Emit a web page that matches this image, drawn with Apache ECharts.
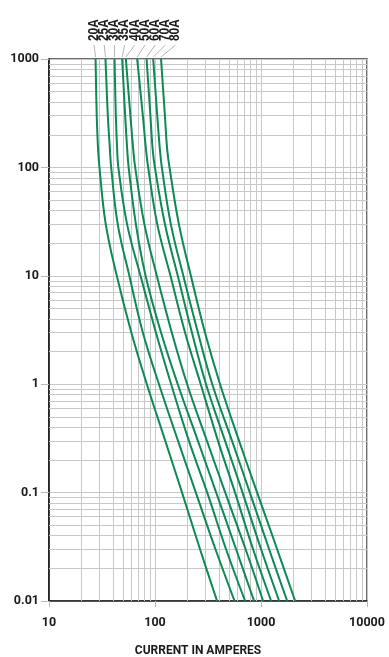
<!DOCTYPE html>
<html><head><meta charset="utf-8">
<script src="https://cdn.jsdelivr.net/npm/echarts@6/dist/echarts.min.js"></script>
<style>html,body{margin:0;padding:0;background:#fff}#c{width:389px;height:657px}</style>
</head><body><div id="c"></div>
<script>
// Time axis sample points (seconds) shared by all curves
const times = [1000, 300, 150, 100, 30, 10, 3, 1, 0.3, 0.1, 0.03, 0.01];
// Current (amperes) of each fuse rating at those times
const ratings = ['20A','25A','30A','35A','40A','50A','60A','70A','80A'];
const amps20A = [27.5, 28.2, 29.0, 29.9, 34.3, 43.6, 59.8, 83.8, 125, 180, 266, 385];
const amps25A = [34.1, 35.9, 37.5, 38.6, 44.5, 57.3, 76.8, 109, 165, 243, 372, 563];
const amps30A = [41.5, 42.7, 43.9, 45.1, 54.5, 73.0, 102, 142, 209, 311, 468, 708];
const amps35A = [49.0, 52.3, 54.6, 56.4, 66.0, 81.5, 114, 164, 254, 378, 582, 861];
const amps40A = [53.1, 58.6, 62.2, 65.0, 79.4, 104, 144, 201, 309, 460, 716, 1047];
const amps50A = [67.9, 76.8, 82.0, 86.2, 105, 140, 192, 270, 393, 569, 842, 1246];
const amps60A = [83.3, 90.5, 94.9, 99.8, 124, 164, 223, 303, 458, 670, 1002, 1483];
const amps70A = [96.2, 105, 111, 116, 141, 185, 254, 347, 533, 785, 1193, 1765];
const amps80A = [114, 124, 130, 137, 168, 218, 296, 411, 621, 920, 1420, 2100];
const curves = [amps20A, amps25A, amps30A, amps35A, amps40A, amps50A, amps60A, amps70A, amps80A];
// Axis decades
const xDecades = [10, 100, 1000, 10000];
const yDecades = [0.01, 0.1, 1, 10, 100, 1000];

const FONT = 'Roboto, "Liberation Sans", sans-serif';
const GREEN = '#0b8a52';
const GRID_C = '#c8c8ca';

function minorsOf(decades) {
  const out = [];
  for (let i = 0; i < decades.length - 1; i++) {
    for (let m = 2; m <= 9; m++) out.push(+(decades[i] * m).toPrecision(6));
  }
  return out;
}
const xMinor = minorsOf(xDecades);
const yMinor = minorsOf(yDecades);
const fmt = v => String(+Number(v).toPrecision(6));

const chart = echarts.init(document.getElementById('c'), null, {renderer: 'canvas'});

const series = curves.map((arr, i) => ({
  name: ratings[i],
  type: 'line',
  data: arr.map((a, k) => [a, times[k]]),
  symbol: 'none',
  smooth: 0.4,
  lineStyle: {color: GREEN, width: 2},
  z: 5
}));
series.push({
  type: 'line',
  data: [],
  symbol: 'none',
  silent: true,
  z: 1,
  markLine: {
    silent: true,
    symbol: ['none', 'none'],
    label: {show: false},
    lineStyle: {color: GRID_C, width: 1, type: 'solid'},
    animation: false,
    data: xMinor.map(v => ({xAxis: v})).concat(yMinor.map(v => ({yAxis: v})))
  }
});

const axisLabelStyle = {fontFamily: FONT, fontWeight: 'bold', fontSize: 12.5, color: '#1a1a1a'};
const nameStyle = {fontFamily: FONT, fontWeight: 'bold', fontSize: 12, color: '#1a1a1a'};

const option = {
  animation: false,
  grid: {left: 49, right: 22, top: 59, bottom: 56, containLabel: false, outerBoundsMode: 'none',
         show: true, borderColor: '#3a3a3a', borderWidth: 1.5},
  xAxis: {
    type: 'log', logBase: 10, min: xDecades[0], max: xDecades[xDecades.length - 1],
    axisLine: {show: true, lineStyle: {color: '#2a2a2a', width: 1.5}},
    axisTick: {show: true, length: 6, lineStyle: {color: '#b8b8b8'}},
    splitLine: {show: true, lineStyle: {color: GRID_C, width: 1}},
    axisLabel: Object.assign({margin: 15, formatter: fmt}, axisLabelStyle),
    name: 'CURRENT IN AMPERES', nameLocation: 'middle', nameGap: 44,
    nameTextStyle: Object.assign({padding: [0, 20, 0, 0]}, nameStyle)
  },
  yAxis: {
    type: 'log', logBase: 10, min: yDecades[0], max: yDecades[yDecades.length - 1],
    axisLine: {show: true, lineStyle: {color: '#111', width: 1.5}},
    axisTick: {show: true, length: 8, lineStyle: {color: '#b8b8b8'}},
    splitLine: {show: true, lineStyle: {color: GRID_C, width: 1}},
    axisLabel: Object.assign({margin: 10, formatter: fmt}, axisLabelStyle),
    name: 'TIME IN SECONDS', nameLocation: 'middle', nameGap: 27, nameRotate: 90, nameTextStyle: nameStyle
  },
  series: series
};
chart.setOption(option);

// Rating labels above the plot with leader lines to each curve's top point
const labelX0 = 94, labelStep = 10.2, labelBaseY = 41, leaderTopY = 45, leaderBotY = 57;
const graphics = [];
curves.forEach((arr, i) => {
  const p = chart.convertToPixel({gridIndex: 0}, [arr[0], times[0]]);
  const lx = labelX0 + i * labelStep;
  graphics.push({
    type: 'line', silent: true,
    shape: {x1: p[0], y1: leaderBotY, x2: lx, y2: leaderTopY},
    style: {stroke: '#b4b4b4', lineWidth: 1}
  });
  graphics.push({
    type: 'text', silent: true,
    x: lx, y: labelBaseY, rotation: Math.PI / 2, scaleX: 0.85,
    style: {text: ratings[i], fill: '#1a1a1a', font: 'bold 14px "Liberation Sans", Roboto, sans-serif',
            textAlign: 'left', textVerticalAlign: 'middle'}
  });
});
chart.setOption({graphic: graphics});
</script>
</body></html>
